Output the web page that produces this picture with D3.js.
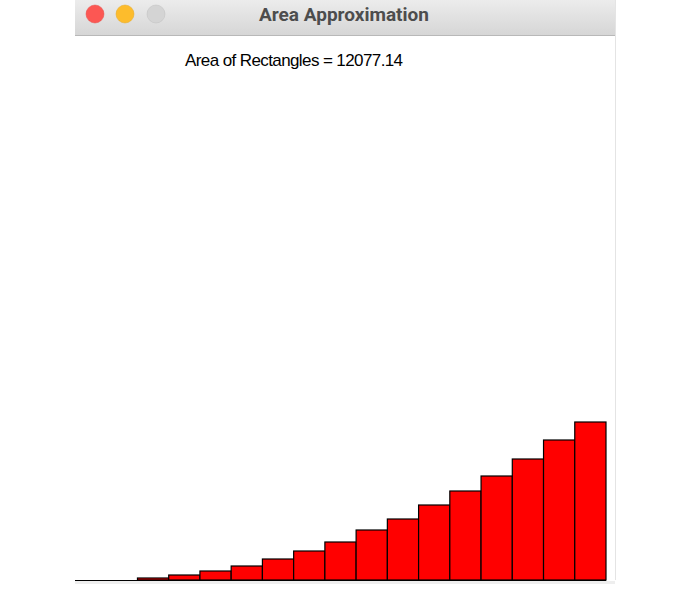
<!DOCTYPE html>
<html><head><meta charset="utf-8">
<script src="https://cdn.jsdelivr.net/npm/d3@7"></script>
<style>body{margin:0;background:#fff}svg{display:block}</style>
</head><body>
<script>
const titleText = "Area Approximation";
const labelText = "Area of Rectangles = 12077.14";
const barIndex = d3.range(17);
const barHeights = [0, 0, 2, 5, 9, 14, 21, 29, 38, 50, 61, 75, 89, 104, 121, 140, 158];

const W = 700, H = 595;
const svg = d3.select("body").append("svg").attr("width", W).attr("height", H);
const defs = svg.append("defs");
const g = defs.append("linearGradient").attr("id","tb").attr("x1",0).attr("y1",0).attr("x2",0).attr("y2",1);
g.append("stop").attr("offset","0%").attr("stop-color","#ececec");
g.append("stop").attr("offset","100%").attr("stop-color","#d6d6d6");

// window frame
svg.append("rect").attr("x",75).attr("y",0).attr("width",540).attr("height",35).attr("fill","url(#tb)");
svg.append("line").attr("x1",75).attr("x2",615).attr("y1",35.5).attr("y2",35.5).attr("stroke","#b8b8b8");
svg.append("line").attr("x1",615.5).attr("x2",615.5).attr("y1",0).attr("y2",580).attr("stroke","#e4e4e4");
[["#fc5753",95],["#fdbc2c",125],["#d4d4d4",156]].forEach(([c,x])=>{
  svg.append("circle").attr("cx",x).attr("cy",14).attr("r",9).attr("fill",c).attr("stroke",d3.color(c).darker(0.3)).attr("stroke-width",0.5);
});
svg.append("text").attr("x",344).attr("y",21).attr("text-anchor","middle")
  .attr("font-family","Roboto, 'Liberation Sans', sans-serif").attr("font-weight","bold").attr("font-size",19)
  .attr("fill","#4d4d4d").text(titleText);
svg.append("text").attr("x",185).attr("y",66)
  .attr("font-family","'Liberation Sans', Arial, sans-serif").attr("font-size",17).attr("letter-spacing",-0.6)
  .attr("fill","#000").text(labelText);

const x = d3.scaleBand().domain(barIndex).range([75, 606]).padding(0);
const y = d3.scaleLinear().domain([0, 158]).range([580, 422]);

svg.append("g").selectAll("rect").data(barIndex).join("rect")
  .attr("x", d => x(d)).attr("width", x.bandwidth())
  .attr("y", d => y(barHeights[d])).attr("height", d => 580 - y(barHeights[d]))
  .attr("fill", "#ff0000").attr("stroke", "#000").attr("stroke-width", 1.2);
svg.append("line").attr("x1",75).attr("x2",606).attr("y1",580.5).attr("y2",580.5).attr("stroke","#000").attr("stroke-width",1);
svg.append("rect").attr("x",75).attr("y",581).attr("width",540).attr("height",3).attr("fill","#eeeeee");
</script>
</body></html>
